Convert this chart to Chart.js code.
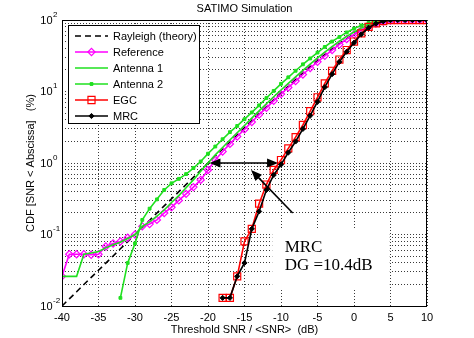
<!DOCTYPE html>
<html>
<head>
<meta charset="utf-8">
<title>SATIMO Simulation</title>
<script src="https://cdn.jsdelivr.net/npm/chart.js@4.4.1/dist/chart.umd.min.js"></script>
<style>
  html, body { margin: 0; padding: 0; background: #fff; }
  #wrap { position: relative; width: 474px; height: 338px; }
</style>
</head>
<body>
<div id="wrap"><canvas id="cdfChart" width="474" height="338"></canvas></div>
<script>
// threshold SNR relative to mean SNR (dB), 1 dB steps
const snr = [-40, -39, -38, -37, -36, -35, -34, -33, -32, -31,
             -30, -29, -28, -27, -26, -25, -24, -23, -22, -21,
             -20, -19, -18, -17, -16, -15, -14, -13, -12, -11,
             -10, -9, -8, -7, -6, -5, -4, -3, -2, -1,
             0, 1, 2, 3, 4, 5, 6, 7, 8, 9, 10];

// CDF values in percent
const rayleigh = [0.01, 0.0126, 0.0158, 0.02, 0.0251, 0.0316, 0.0398, 0.0501, 0.0631, 0.0794,
                  0.1, 0.126, 0.158, 0.2, 0.251, 0.316, 0.397, 0.5, 0.629, 0.791,
                  0.995, 1.25, 1.57, 1.98, 2.48, 3.11, 3.9, 4.89, 6.11, 7.63,
                  9.52, 11.8, 14.7, 18.1, 22.3, 27.1, 32.8, 39.4, 46.7, 54.8,
                  63.2, 71.6, 79.6, 86.5, 91.8, 95.8, 98.2, 99.4, 99.8, 99.97, 100];

const reference = [0.026, 0.053, 0.053, 0.053, 0.052, 0.053, 0.068, 0.075, 0.08, 0.09,
                   0.1, 0.13, 0.14, 0.16, 0.2, 0.24, 0.3, 0.37, 0.46, 0.58,
                   0.8, 1.1, 1.45, 1.85, 2.35, 2.95, 3.75, 4.75, 5.9, 7.4,
                   9.2, 11.4, 14, 17.3, 21.3, 26, 31.5, 38, 45.5, 54,
                   63, 72, 80.5, 89, 95, 98.5, 99.7, 100, 100, 100, 100];

const antenna1 = [0.026, 0.026, 0.026, 0.053, 0.055, 0.058, 0.065, 0.072, 0.078, 0.088,
                  0.1, 0.13, 0.15, 0.18, 0.22, 0.28, 0.35, 0.45, 0.58, 0.77,
                  1.0, 1.3, 1.65, 2.1, 2.65, 3.35, 4.25, 5.35, 6.75, 8.45,
                  10.5, 13, 16, 19.8, 24.2, 29.5, 35.5, 42.5, 50.5, 59,
                  68, 77, 85.5, 92.5, 97.5, 99.6, 100, 100, 100, 100, 100];

const antenna2 = [null, null, null, null, null, null, null, null, 0.013, 0.04,
                  0.075, 0.16, 0.23, 0.31, 0.42, 0.52, 0.6, 0.7, 0.85, 1.05,
                  1.35, 1.7, 2.15, 2.7, 3.3, 4.1, 5.1, 6.4, 8.1, 10.2,
                  12.8, 15.8, 19.5, 24, 29, 35, 42, 50, 58, 67,
                  76, 84, 91, 96, 99.3, 100, 100, 100, 100, 100, 100];

const egc = [null, null, null, null, null, null, null, null, null, null,
             null, null, null, null, null, null, null, null, null, null,
             null, null, 0.013, 0.013, 0.026, 0.08, 0.12, 0.27, 0.5, 0.8,
             1.1, 1.6, 2.3, 3.4, 5.3, 8.3, 13, 19.5, 28, 38,
             50, 65, 80, 90, 96.5, 99.6, 100, 100, 100, 100, 100];

const mrc = [null, null, null, null, null, null, null, null, null, null,
             null, null, null, null, null, null, null, null, null, null,
             null, null, 0.013, 0.013, 0.026, 0.04, 0.12, 0.21, 0.42, 0.68,
             0.95, 1.4, 2.0, 3.0, 4.6, 7.2, 11.5, 17.5, 26, 36,
             48, 63, 78, 89, 96, 99.5, 100, 100, 100, 100, 100];

// y grid (log decades + minor lines) and decade labels
const yGrid = [0.01, 0.02, 0.03, 0.04, 0.05, 0.06, 0.07, 0.08, 0.09,
               0.1, 0.2, 0.3, 0.4, 0.5, 0.6, 0.7, 0.8, 0.9,
               1, 2, 3, 4, 5, 6, 7, 8, 9,
               10, 20, 30, 40, 50, 60, 70, 80, 90, 100];
const yDecades = [0.01, 0.1, 1, 10, 100];
const yExponents = ["-2", "-1", "0", "1", "2"];

// annotations, in data units (dB, %)
const gainArrow = { from: -19.8, to: -10.4, level: 1 };
const pointerArrow = { x0: -8.4, y0: 0.2, x1: -14.1, y1: 0.8 };
const noteBox = { x0: -11.2, x1: 4.9, y0: 0.123, y1: 0.0168 };
const noteLines = [
    { text: "MRC", x: -9.5, y: 0.057 },
    { text: "DG =10.4dB", x: -9.5, y: 0.0318 },
];

const FONT = '"Liberation Sans", Arial, Helvetica, sans-serif';
const SERIF = '"Liberation Serif", "Times New Roman", Times, serif';

const toPoints = (values) => snr.map((x, i) => ({ x, y: values[i] }));

function arrowHead(ctx, fx, fy, tx, ty) {
    const a = Math.atan2(ty - fy, tx - fx);
    const len = 11, half = 4.5;
    const bx = tx - len * Math.cos(a);
    const by = ty - len * Math.sin(a);
    ctx.beginPath();
    ctx.moveTo(tx, ty);
    ctx.lineTo(bx + half * Math.sin(a), by - half * Math.cos(a));
    ctx.lineTo(bx - half * Math.sin(a), by + half * Math.cos(a));
    ctx.closePath();
    ctx.fill();
}

// white text box sits between the grid and the curves
const noteBoxPlugin = {
    id: "noteBox",
    beforeDatasetsDraw(chart) {
        const { ctx, scales: { x, y } } = chart;
        const l = x.getPixelForValue(noteBox.x0);
        const r = x.getPixelForValue(noteBox.x1);
        const t = y.getPixelForValue(noteBox.y0);
        const b = y.getPixelForValue(noteBox.y1);
        ctx.save();
        ctx.fillStyle = "#fff";
        ctx.fillRect(l, t, r - l, b - t);
        ctx.fillStyle = "#000";
        ctx.font = `17px ${SERIF}`;
        ctx.textAlign = "left";
        ctx.textBaseline = "alphabetic";
        noteLines.forEach((ln) => {
            ctx.fillText(ln.text, x.getPixelForValue(ln.x), y.getPixelForValue(ln.y));
        });
        ctx.restore();
    },
};

const overlayPlugin = {
    id: "overlay",
    afterDatasetsDraw(chart) {
        const { ctx, chartArea, scales: { x, y } } = chart;
        ctx.save();

        // arrows
        ctx.strokeStyle = "#000";
        ctx.fillStyle = "#000";
        ctx.lineWidth = 1.6;
        const gy = y.getPixelForValue(gainArrow.level);
        const gx0 = x.getPixelForValue(gainArrow.from);
        const gx1 = x.getPixelForValue(gainArrow.to);
        ctx.beginPath();
        ctx.moveTo(gx0 + 6, gy);
        ctx.lineTo(gx1 - 6, gy);
        ctx.stroke();
        arrowHead(ctx, gx1, gy, gx0, gy);
        arrowHead(ctx, gx0, gy, gx1, gy);

        const px0 = x.getPixelForValue(pointerArrow.x0);
        const py0 = y.getPixelForValue(pointerArrow.y0);
        const px1 = x.getPixelForValue(pointerArrow.x1);
        const py1 = y.getPixelForValue(pointerArrow.y1);
        ctx.beginPath();
        ctx.moveTo(px0, py0);
        ctx.lineTo(px1 + (px0 - px1) * 0.15, py1 + (py0 - py1) * 0.15);
        ctx.stroke();
        arrowHead(ctx, px0, py0, px1, py1);

        // legend box
        const lx = chartArea.left + 6, ly = chartArea.top + 5, lw = 131, lh = 98;
        ctx.fillStyle = "#fff";
        ctx.fillRect(lx, ly, lw, lh);
        ctx.lineWidth = 1;
        ctx.strokeStyle = "#000";
        ctx.strokeRect(lx + 0.5, ly + 0.5, lw, lh);
        ctx.font = `11px ${FONT}`;
        ctx.textBaseline = "middle";
        ctx.textAlign = "left";
        chart.data.datasets.forEach((ds, i) => {
            const rowY = ly + 11 + i * 16;
            ctx.strokeStyle = ds.borderColor;
            ctx.lineWidth = ds.borderWidth;
            ctx.setLineDash(ds.borderDash || []);
            ctx.beginPath();
            ctx.moveTo(lx + 7, rowY);
            ctx.lineTo(lx + 40, rowY);
            ctx.stroke();
            ctx.setLineDash([]);
            if (ds.pointRadius > 0) {
                ctx.fillStyle = ds.pointBackgroundColor;
                ctx.strokeStyle = ds.pointBorderColor;
                ctx.lineWidth = ds.pointBorderWidth;
                Chart.helpers.drawPoint(ctx, {
                    pointStyle: ds.pointStyle,
                    radius: ds.pointRadius,
                    borderWidth: ds.pointBorderWidth,
                    rotation: 0,
                }, lx + 23.5, rowY);
            }
            ctx.fillStyle = "#000";
            ctx.fillText(ds.label, lx + 45, rowY + 0.5);
        });

        // axes frame
        ctx.strokeStyle = "#000";
        ctx.lineWidth = 1;
        ctx.strokeRect(Math.round(chartArea.left) + 0.5, Math.round(chartArea.top) + 0.5,
            Math.round(chartArea.right - chartArea.left) - 1, Math.round(chartArea.bottom - chartArea.top));
        ctx.restore();
    },
    afterDraw(chart) {
        const { ctx, chartArea, scales: { y } } = chart;
        ctx.save();
        ctx.fillStyle = "#000";
        ctx.textBaseline = "middle";
        yDecades.forEach((v, i) => {
            const py = y.getPixelForValue(v);
            const xr = chartArea.left - 9.5;
            ctx.font = `11px ${FONT}`;
            ctx.textAlign = "right";
            ctx.fillText("10", xr, py + 0.5);
            ctx.font = `8px ${FONT}`;
            ctx.textAlign = "left";
            ctx.fillText(yExponents[i], xr + 0.5, py - 5.5);
        });
        ctx.restore();
    },
};

document.addEventListener("DOMContentLoaded", () => {
    const ctx = document.getElementById("cdfChart");
    const green = "#1fe01f";

    new Chart(ctx, {
        type: "line",
        data: {
            datasets: [
                {
                    label: "Rayleigh (theory)",
                    data: toPoints(rayleigh),
                    borderColor: "#000",
                    borderWidth: 1.6,
                    borderDash: [6, 4],
                    pointRadius: 0,
                    order: 6,
                },
                {
                    label: "Reference",
                    data: toPoints(reference),
                    borderColor: "#ff00ff",
                    borderWidth: 1.6,
                    pointStyle: "rectRot",
                    pointRadius: 3.6,
                    pointBorderWidth: 1.2,
                    pointBorderColor: "#ff00ff",
                    pointBackgroundColor: "rgba(0,0,0,0)",
                    order: 5,
                },
                {
                    label: "Antenna 1",
                    data: toPoints(antenna1),
                    borderColor: green,
                    borderWidth: 1.6,
                    pointRadius: 0,
                    order: 4,
                },
                {
                    label: "Antenna 2",
                    data: toPoints(antenna2),
                    borderColor: green,
                    borderWidth: 1.6,
                    pointStyle: "rect",
                    pointRadius: 2,
                    pointBorderWidth: 1,
                    pointBorderColor: green,
                    pointBackgroundColor: green,
                    order: 3,
                },
                {
                    label: "EGC",
                    data: toPoints(egc),
                    borderColor: "#ff0000",
                    borderWidth: 1.6,
                    pointStyle: "rect",
                    pointRadius: 5,
                    pointBorderWidth: 1.2,
                    pointBorderColor: "#ff0000",
                    pointBackgroundColor: "rgba(0,0,0,0)",
                    order: 2,
                },
                {
                    label: "MRC",
                    data: toPoints(mrc),
                    borderColor: "#000",
                    borderWidth: 1.6,
                    pointStyle: "rectRot",
                    pointRadius: 2.6,
                    pointBorderWidth: 1,
                    pointBorderColor: "#000",
                    pointBackgroundColor: "#000",
                    order: 1,
                },
            ],
        },
        options: {
            responsive: false,
            animation: false,
            layout: { padding: { left: 0, right: 47, top: 0, bottom: 0 } },
            scales: {
                x: {
                    type: "linear",
                    min: -40,
                    max: 10,
                    ticks: {
                        stepSize: 5,
                        color: "#000",
                        padding: 5,
                        font: { size: 11, family: FONT },
                    },
                    grid: { color: "#3a3a3a", lineWidth: 1, drawTicks: false },
                    border: { display: false, dash: [1, 2] },
                    title: {
                        display: true,
                        text: "Threshold SNR / <SNR>  (dB)",
                        color: "#000",
                        font: { size: 11, family: FONT },
                        padding: { top: 0, bottom: 1 },
                    },
                    afterFit: (scale) => { scale.height = 32; },
                },
                y: {
                    type: "logarithmic",
                    min: 0.01,
                    max: 100,
                    afterBuildTicks: (scale) => {
                        scale.ticks = yGrid.map((v) => ({ value: v }));
                    },
                    ticks: { display: false, autoSkip: false },
                    grid: { color: "#3a3a3a", lineWidth: 1, drawTicks: false },
                    border: { display: false, dash: [1, 2] },
                    title: {
                        display: true,
                        text: "CDF [SNR < Abscissa]   (%)",
                        color: "#000",
                        font: { size: 11, family: FONT },
                        padding: { top: 24, bottom: 0 },
                    },
                    afterFit: (scale) => { scale.width = 62; },
                },
            },
            plugins: {
                legend: { display: false },
                tooltip: { enabled: false },
                title: {
                    display: true,
                    fullSize: false,
                    text: "SATIMO Simulation",
                    color: "#000",
                    font: { size: 11, weight: "normal", family: FONT },
                    padding: { top: 2, bottom: 4.8 },
                },
            },
        },
        plugins: [noteBoxPlugin, overlayPlugin],
    });
});
</script>
</body>
</html>
